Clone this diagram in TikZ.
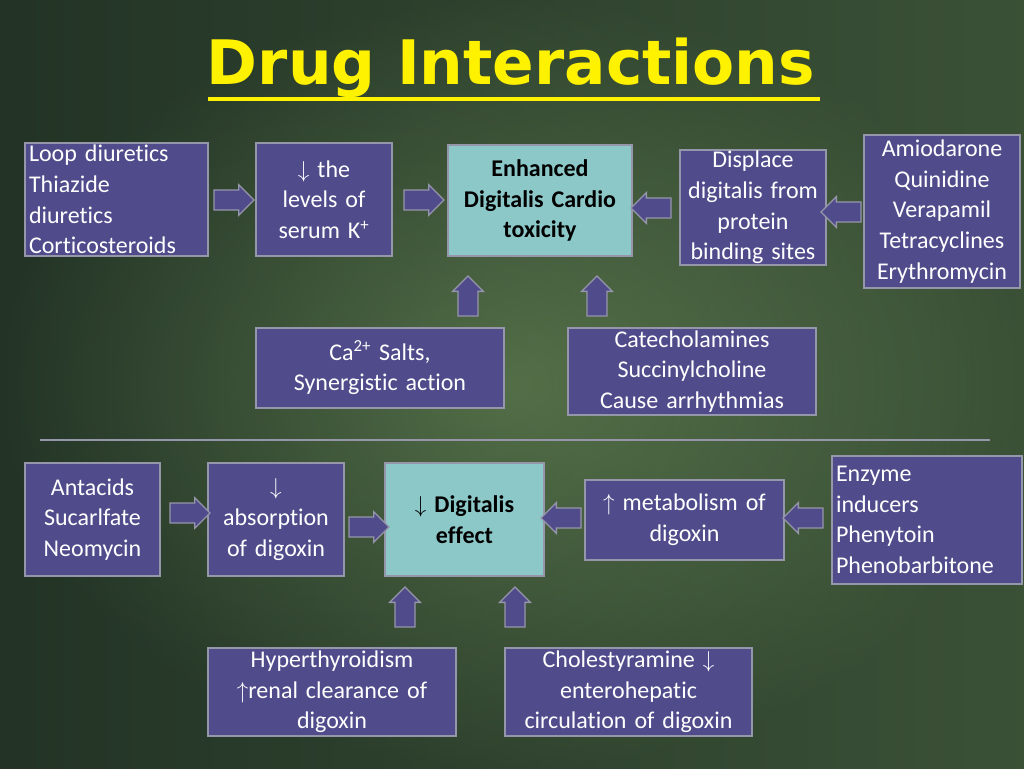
\documentclass[tikz,border=0pt]{standalone}
\usepackage{fontspec}
\setmainfont{Carlito}[Ligatures=CommonOff]
\newfontfamily\titlefont{DejaVu Sans}
\usetikzlibrary{shapes.arrows,positioning}
\definecolor{boxfill}{RGB}{80,76,140}
\definecolor{boxline}{RGB}{150,150,170}
\definecolor{tealfill}{RGB}{140,200,200}
\definecolor{bgdark}{RGB}{35,52,38}
\definecolor{bglight}{RGB}{95,125,80}
\tikzset{
  box/.style={draw=boxline,line width=1.2pt,fill=boxfill,text=white,align=center,
    inner sep=1pt,font=\fontsize{18}{23}\selectfont},
  hub/.style={box,fill=tealfill,text=black,font=\bfseries\fontsize{18}{23}\selectfont},
  blk/.style={single arrow,draw=boxline,line width=1pt,fill=boxfill,
    minimum height=30pt,minimum width=23pt,single arrow head extend=4pt,inner sep=7pt},
}
\newcommand{\bx}[6][box]{\node[#1,minimum width=#4*0.75pt,minimum height=#5*0.75pt,text width=#4*0.75pt-6pt] (#2) at (#3) {#6};}
\begin{document}
\begin{tikzpicture}[x=0.75pt,y=-0.75pt]
\useasboundingbox (0,0) rectangle (1024,768);
\shade[left color=bgdark,right color=bglight] (0,0) rectangle (1024,768);
\shade[inner color=bglight,outer color=bgdark,opacity=0.6] (0,0) rectangle (1024,768);

\node[text=yellow,font=\titlefont\bfseries\fontsize{46}{50}\selectfont] (title) at (511,68) {Drug Interactions};
\draw[yellow,line width=3pt] (title.south west)++(6,-4) coordinate (u1) -- (u1-|title.south east);

% top row
\bx[box,align=left]{loop}{116.5,199.5}{183}{113}{Loop diuretics\\Thiazide\\diuretics\\Corticosteroids}
\bx{levels}{324,199.5}{136}{113}{$\downarrow$ the\\levels of\\serum K\textsuperscript{+}}
\bx[hub]{enh}{540,200.5}{184}{111}{Enhanced\\Digitalis Cardio\\toxicity}
\bx{disp}{753,207.5}{146}{115}{Displace\\digitalis from\\protein\\binding sites}
\bx{amio}{942,211.5}{156}{153}{Amiodarone\\Quinidine\\Verapamil\\Tetracyclines\\Erythromycin}
\bx{ca}{380,368}{248}{80}{Ca\textsuperscript{2+} Salts,\\Synergistic action}
\bx{cat}{692,371.5}{248}{87}{Catecholamines\\Succinylcholine\\Cause arrhythmias}

\node[blk] (a1) at (229,200) {};
\node[blk] (a2) at (419,200) {};
\node[blk,shape border rotate=180] (a3) at (656,208) {};
\node[blk,shape border rotate=180] (a4) at (846,212) {};
\node[blk,shape border rotate=90] (a5) at (468,301) {};
\node[blk,shape border rotate=90] (a6) at (597,301) {};

\draw[boxline,line width=1pt] (40,440) coordinate (l1) -- (990,440) coordinate (l2);

% bottom row
\bx{ant}{92.5,519.5}{135}{113}{Antacids\\Sucarlfate\\Neomycin}
\bx{abs}{276,519.5}{136}{113}{$\downarrow$\\absorption\\of digoxin}
\bx[hub]{dig}{464.5,519.5}{159}{113}{$\downarrow$ Digitalis\\effect}
\bx{met}{684.5,520}{199}{80}{$\uparrow$ metabolism of\\digoxin}
\bx[box,align=left]{enz}{927,520}{190}{128}{Enzyme\\inducers\\Phenytoin\\Phenobarbitone}
\bx{hyp}{332,692}{248}{88}{Hyperthyroidism\\$\uparrow$renal clearance of\\digoxin}
\bx{chol}{628.5,692}{247}{88}{Cholestyramine $\downarrow$\\enterohepatic\\circulation of digoxin}

\node[blk] (b1) at (185,513) {};
\node[blk] (b2) at (364,527) {};
\node[blk,shape border rotate=180] (b3) at (566,518) {};
\node[blk,shape border rotate=180] (b4) at (808,518) {};
\node[blk,shape border rotate=90] (b5) at (405,612) {};
\node[blk,shape border rotate=90] (b6) at (515,612) {};
\end{tikzpicture}
\end{document}
